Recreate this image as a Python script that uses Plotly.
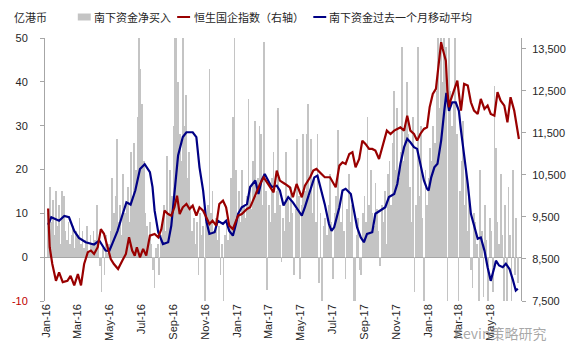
import plotly.graph_objects as go
import pandas as pd

# ---------------- data ----------------
# 南下资金净买入 (亿港币), sampled every 3 calendar days from 2016-01-04
bar_start = "2016-01-04"
bar_values = [
    # 2016
    10, 16, 8, 13, 5, 15, 7, 12, 3, 15,
    14, 6, 4, 8, 3, 5, 7, 2, 6,
    5, 9, 3, 6, 2, 4, 7, 1, 5, 3, 6,
    4, 12, 3, -2, -8, 2, -4, 5, 1, 3,
    6, 18, 10, 14, 27, 8, 12, 5, 19, 10,
    12, 16, 8, 24, 14, 26, 20, 32, 55, 43,
    35, 22, 10, 7, 4, 8, 3, -3, -7, 2,
    3, -4, 5, 8, 12, 6, 23, 10, 20, 14, 30,
    55, 55, 40, 28, 22, 55, 30, 37, 18, 24,
    12, 6, 9, 3, 8, -4, 10, 5, 7, -12,
    8, 12, 43, 10, 15, 6, 9, 4, 7, -4,
    3, -12, 5, 8, 4, 7, 18, 32, 55, 20,
    # 2017
    10, 15, 8, 20, 12, 9, 14, 36, 16, 11, 22,
    31, 14, 18, 30, 28, 12, 49, 15, -7.6,
    12, 8, 18, 24, 10, 15, 34, 12, -1, 9,
    6, 24, 13, 8, 16, 10, -4, 11, 27, 14,
    -5, 12, 28, 15, 28, 35, 14, 27, 10, 18, 8,
    28, -6, 10, -12, 7, 9, 5, 12, 19, 8,
    -5, 10, 14, 29, 12, 8, 15, 6, -5, 11,
    19, 8, 12, -12, -12, 5, 9, -3, -4, 10,
    14, 8, 32, 12, 20, 10, 7, 17, 11, 6,
    -2, 12, 8, 15, 3, 19, 22, 12, 26, 38, 20,
    34, 18, 24, 48, 22, 30, 40, 28, 16, 8,
    32, -8, 12, 48, 14, 30, 9, -12, 20, 12,
    # 2018
    18, 25, 22, 30, 26, 38, 55, 34, 55, 40,
    55, 48, -12, 55, 38, 30, 35, 55, 28, -12,
    15, 22, 31, 12, 20, 6, 14, -3, -7, 10,
    8, 3, -12, 20, 6, -9, 12, 4, -12, 9,
    6, -8, 39, 25, 8, 3, 19, 5, -12, 12,
    -12, 16, 5, -12, 20, -4, 9, -6,
]

# 恒生国企指数 (右轴)
red_dates = [
    "2016-01-04", "2016-01-07", "2016-01-12", "2016-01-19", "2016-01-25", "2016-02-01",
    "2016-02-10", "2016-02-16", "2016-02-23", "2016-03-01", "2016-03-07", "2016-03-13",
    "2016-03-20", "2016-03-26", "2016-04-01", "2016-04-08", "2016-04-14", "2016-04-20",
    "2016-04-27", "2016-05-03", "2016-05-09", "2016-05-17", "2016-05-25", "2016-06-01",
    "2016-06-07", "2016-06-13", "2016-06-18", "2016-06-22", "2016-06-28", "2016-07-04",
    "2016-07-10", "2016-07-17", "2016-07-26", "2016-08-02", "2016-08-08", "2016-08-14",
    "2016-08-21", "2016-08-27", "2016-09-02", "2016-09-07", "2016-09-12", "2016-09-18",
    "2016-09-25", "2016-10-01", "2016-10-07", "2016-10-14", "2016-10-20", "2016-10-27",
    "2016-11-02", "2016-11-08", "2016-11-14", "2016-11-21", "2016-11-27", "2016-12-04",
    "2016-12-10", "2016-12-16", "2016-12-23", "2016-12-29",
    "2017-01-02", "2017-01-09", "2017-01-19", "2017-01-25", "2017-02-04", "2017-02-13",
    "2017-02-20", "2017-02-26", "2017-03-04", "2017-03-11", "2017-03-17", "2017-03-23",
    "2017-04-02", "2017-04-11", "2017-04-17", "2017-04-24", "2017-05-04", "2017-05-10",
    "2017-05-20", "2017-05-26", "2017-06-01", "2017-06-08", "2017-06-17", "2017-06-27",
    "2017-07-01", "2017-07-08", "2017-07-15", "2017-07-21", "2017-07-27", "2017-08-03",
    "2017-08-09", "2017-08-15", "2017-08-22", "2017-08-28", "2017-09-03", "2017-09-10",
    "2017-09-16", "2017-09-22", "2017-09-29", "2017-10-05", "2017-10-14", "2017-10-21",
    "2017-10-28", "2017-11-03", "2017-11-09", "2017-11-16", "2017-11-22", "2017-11-28",
    "2017-12-05", "2017-12-11", "2017-12-17", "2017-12-24", "2017-12-30",
    "2018-01-04", "2018-01-10", "2018-01-16", "2018-01-20", "2018-01-23", "2018-01-26",
    "2018-01-29", "2018-02-01", "2018-02-04", "2018-02-07", "2018-02-10", "2018-02-13",
    "2018-02-20", "2018-02-26", "2018-03-05", "2018-03-11", "2018-03-18", "2018-03-24",
    "2018-03-30", "2018-04-06", "2018-04-12", "2018-04-19", "2018-04-25", "2018-05-01",
    "2018-05-08", "2018-05-14", "2018-05-20", "2018-05-27", "2018-06-02", "2018-06-08",
    "2018-06-15", "2018-06-21", "2018-06-24",
]
red_values = [
    9700, 8780, 8380, 7980, 8180, 7950,
    7980, 8100, 7870, 8140, 7870, 8380,
    8660, 8700, 8620, 8780, 9210, 9100,
    8780, 8500, 8380, 8260, 8460, 8620,
    9020, 8700, 8580, 8780, 8540, 8740,
    8580, 9055, 9095, 9016, 9214, 9650,
    9571, 9531, 9730, 10007, 9571, 9730,
    9810, 9690, 9770, 9531, 9730, 9650,
    9492, 9333, 9413, 9294, 9810, 9888,
    9730, 9294, 9214, 9413,
    9531, 9571, 9690, 9730, 10048, 10286,
    10445, 10326, 10207, 10088, 10603, 10365,
    10286, 10207, 9969, 10286, 9969, 10246,
    10445, 10603, 10643, 10564, 10445, 10445,
    10365, 10207, 10722, 10802, 10762, 11000,
    11040, 10683, 10881, 11317, 11238, 11119,
    11119, 11079, 10881, 11159, 11555, 11476,
    11555, 11595, 11634, 11555, 11912, 11555,
    11476, 11317, 11476, 11595, 11634,
    12112, 12429, 12548, 12983, 13381, 13660,
    13500, 13381, 13222, 12508, 12112, 12270,
    12548, 12746, 12032, 12667, 12627, 12230,
    12032, 11952, 12310, 12072, 12151, 11952,
    11912, 12469, 12270, 12151, 11753, 12350,
    12032, 11555, 11357,
]

# 南下资金过去一个月移动平均
blue_dates = [
    "2016-01-04", "2016-01-10", "2016-01-25", "2016-02-04", "2016-02-13", "2016-02-23",
    "2016-03-03", "2016-03-16", "2016-04-01", "2016-04-11", "2016-04-23", "2016-04-30",
    "2016-05-06", "2016-05-16", "2016-05-25", "2016-06-02", "2016-06-10", "2016-06-19",
    "2016-06-28", "2016-07-07", "2016-07-17", "2016-07-22", "2016-07-26", "2016-08-02",
    "2016-08-11", "2016-08-21", "2016-08-27", "2016-09-02", "2016-09-09", "2016-09-18",
    "2016-09-25", "2016-10-07", "2016-10-14", "2016-10-20", "2016-10-27", "2016-11-02",
    "2016-11-08", "2016-11-18", "2016-11-24", "2016-12-04", "2016-12-10", "2016-12-16",
    "2016-12-23", "2016-12-29",
    "2017-01-02", "2017-01-09", "2017-01-19", "2017-01-25", "2017-02-04", "2017-02-10",
    "2017-02-16", "2017-02-22", "2017-03-01", "2017-03-07", "2017-03-17", "2017-03-23",
    "2017-03-30", "2017-04-08", "2017-04-17", "2017-04-27", "2017-05-04", "2017-05-10",
    "2017-05-20", "2017-05-28", "2017-06-03", "2017-06-09", "2017-06-17", "2017-06-25",
    "2017-06-30", "2017-07-05", "2017-07-15", "2017-07-21", "2017-07-27", "2017-08-06",
    "2017-08-12", "2017-08-18", "2017-08-25", "2017-08-31", "2017-09-06", "2017-09-16",
    "2017-09-22", "2017-10-02", "2017-10-11", "2017-10-18", "2017-10-28", "2017-11-03",
    "2017-11-09", "2017-11-16", "2017-11-22", "2017-11-28", "2017-12-05", "2017-12-11",
    "2017-12-17", "2017-12-24", "2017-12-30",
    "2018-01-02", "2018-01-07", "2018-01-13", "2018-01-19", "2018-01-26", "2018-02-01",
    "2018-02-05", "2018-02-10", "2018-02-16", "2018-02-23", "2018-03-01", "2018-03-05",
    "2018-03-12", "2018-03-18", "2018-03-24", "2018-03-31", "2018-04-06", "2018-04-12",
    "2018-04-19", "2018-04-25", "2018-05-01", "2018-05-08", "2018-05-11", "2018-05-17",
    "2018-05-24", "2018-05-30", "2018-06-06", "2018-06-12", "2018-06-18", "2018-06-22",
]
blue_values = [
    7.4, 9.1, 8.3, 9.4, 9.1, 6.0,
    4.4, 3.4, 2.9, 3.8, 1.5, 1.4,
    3.1, 6.0, 9.5, 12.5, 12.0, 15.2,
    20.1, 21.2, 19.4, 16.0, 10.6, 5.7,
    3.0, 3.4, 7.2, 15.2, 23.2, 27.4,
    28.5, 28.5, 27.4, 20.5, 15.2, 8.3,
    5.3, 5.7, 8.3, 7.6, 8.3, 6.0,
    4.9, 7.6,
    9.9, 11.4, 12.1, 16.0, 17.5, 14.4,
    17.5, 19.0, 17.5, 16.0, 16.3, 15.2,
    11.8, 13.7, 12.5, 10.6, 9.5, 11.4,
    15.2, 18.2, 18.6, 16.0, 12.1, 7.6,
    6.0, 6.8, 11.4, 15.2, 15.6, 14.4,
    10.6, 6.8, 4.5, 3.4, 5.3, 5.7,
    9.9, 10.6, 11.4, 13.7, 14.4, 16.7,
    21.3, 25.1, 27.0, 26.2, 25.1, 24.7,
    21.3, 17.5, 15.6,
    15.2, 18.2, 20.5, 21.3, 26.6, 33.4,
    37.5, 33.4, 35.3, 35.3, 33.4, 28.9,
    22.8, 16.7, 9.9, 6.8, 4.2, 4.5,
    1.5, -2.3, -5.4, -2.3, -0.8, -1.9,
    -2.3, -1.5, -2.7, -5.0, -7.6, -7.2,
]

left_ticks = [-10, 0, 10, 20, 30, 40, 50]
right_ticks = [7500, 8500, 9500, 10500, 11500, 12500, 13500]
x_ticks = ["2016-01-01", "2016-03-01", "2016-05-01", "2016-07-01", "2016-09-01",
           "2016-11-01", "2017-01-01", "2017-03-01", "2017-05-01", "2017-07-01",
           "2017-09-01", "2017-11-01", "2018-01-01", "2018-03-01", "2018-05-01"]

name_bar = "南下资金净买入"
name_red = "恒生国企指数（右轴）"
name_blue = "南下资金过去一个月移动平均"

# ---------------- layout helpers ----------------
W, H = 579, 362
ML, MR, MT, MB = 42, 58, 38, 61
PW, PH = W - ML - MR, H - MT - MB


def px(x):
    return (x - ML) / PW


def py(y):
    return (H - MB - y) / PH


BAR_C = "#C4C4C4"
RED_C = "#990000"
BLUE_C = "#000085"
AX_C = "#A6A6A6"
TXT_C = "#262626"
NUM_FONT = "Liberation Sans, Arial, sans-serif"
CJK_FONT = "Noto Sans CJK SC, sans-serif"

bar_dates = pd.date_range(bar_start, periods=len(bar_values), freq="3D")

fig = go.Figure()
fig.add_trace(go.Bar(x=bar_dates, y=bar_values, name=name_bar,
                     marker=dict(color=BAR_C, line=dict(width=0)),
                     width=1.4 * 86400000, showlegend=False))
fig.add_trace(go.Scatter(x=pd.to_datetime(red_dates), y=red_values, name=name_red,
                         mode="lines", line=dict(color=RED_C, width=2.2),
                         yaxis="y2", showlegend=False))
fig.add_trace(go.Scatter(x=pd.to_datetime(blue_dates), y=blue_values, name=name_blue,
                         mode="lines", line=dict(color=BLUE_C, width=2.2),
                         showlegend=False))

left_text = [('<span style="color:#C00000">%d</span>' % v) if v < 0 else str(v)
             for v in left_ticks]

fig.update_layout(
    width=W, height=H,
    margin=dict(l=ML, r=MR, t=MT, b=MB, pad=0),
    paper_bgcolor="white", plot_bgcolor="white",
    bargap=0,
    xaxis=dict(type="date", range=["2015-12-29", "2018-06-28"],
               tickvals=x_ticks, tickformat="%b-%y", tickangle=-90,
               showgrid=False, showline=False, ticks="", zeroline=False,
               tickfont=dict(family=NUM_FONT, size=11, color=TXT_C)),
    yaxis=dict(range=[-10, 50], tickvals=left_ticks, ticktext=left_text,
               showgrid=False, showline=True, linecolor=AX_C, linewidth=1,
               ticks="outside", ticklen=4, tickcolor=AX_C,
               zeroline=True, zerolinecolor=AX_C, zerolinewidth=1,
               ticklabelstandoff=10,
               tickfont=dict(family=NUM_FONT, size=11, color=TXT_C)),
    yaxis2=dict(range=[7500, 13760], tickvals=right_ticks, tickformat=",",
                overlaying="y", side="right",
                showgrid=False, showline=True, linecolor=AX_C, linewidth=1,
                ticks="outside", ticklen=4, tickcolor=AX_C, zeroline=False,
                ticklabelstandoff=4,
                tickfont=dict(family=NUM_FONT, size=11, color=TXT_C)),
)

# manual legend + unit label + watermark
shapes = [
    dict(type="rect", xref="paper", yref="paper", x0=px(75), x1=px(88),
         y0=py(20.5), y1=py(13.5), fillcolor=BAR_C, line=dict(width=0)),
    dict(type="line", xref="paper", yref="paper", x0=px(175), x1=px(188),
         y0=py(17), y1=py(17), line=dict(color=RED_C, width=2)),
    dict(type="line", xref="paper", yref="paper", x0=px(312), x1=px(325),
         y0=py(17), y1=py(17), line=dict(color=BLUE_C, width=2)),
]
annos = []
for text, x in [("亿港币", 9), (name_bar, 89), (name_red, 190), (name_blue, 326)]:
    annos.append(dict(text=text, xref="paper", yref="paper", x=px(x), y=py(17),
                      xanchor="left", yanchor="middle", showarrow=False,
                      font=dict(family=CJK_FONT, size=11, color=TXT_C)))
annos.append(dict(text="Kevin策略研究", xref="paper", yref="paper", x=px(452), y=py(333),
                  xanchor="left", yanchor="middle", showarrow=False,
                  font=dict(family=CJK_FONT, size=14, color="rgba(140,140,140,0.75)")))
fig.update_layout(shapes=shapes, annotations=annos)

fig.write_html("out.html")
